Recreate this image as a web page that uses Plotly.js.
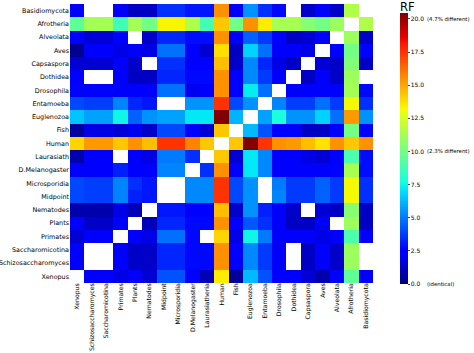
<!DOCTYPE html>
<html>
<head>
<meta charset="utf-8">
<script src="https://cdn.plot.ly/plotly-3.0.1.min.js"></script>
<style>html,body{margin:0;padding:0;background:#fff;}#chart{width:474px;height:353px;}</style>
</head>
<body>
<div id="chart"></div>
<script>
// Species order: index 0 at bottom (y) / left (x)
const xLabels = ["Xenopus","Schizosaccharomyces","Saccharomicotina","Primates","Plants","Nematodes","Midpoint","Microsporidia","D.Melanogaster","Laurasiatheria","Human","Fish","Euglenozoa","Entamoeba","Drosophila","Dothidea","Capsaspora","Aves","Alveolata","Afrotheria","Basidiomycota"];
const yLabels = ["Xenopus","Schizosaccharomyces","Saccharomicotina","Primates","Plants","Nematodes","Midpoint","Microsporidia","D.Melanogaster","Laurasiath","Human","Fish","Euglenozoa","Entamoeba","Drosophila","Dothidea","Capsaspora","Aves","Alveolata","Afrotheria","Basidiomycota"];

// RF values per row (row i = yLabels[i]), columns follow xLabels; null = identical (white)
const rowXenopus        = [null,2.4,2.4,1.8,2.2,1.5,4.2,4.2,2.6,1.0,13.5,0.5,6.3,4.2,2.5,2.5,1.5,0.8,2.2,9.5,2.5];
const rowSchizo         = [2.2,null,null,2.5,1.3,1.3,3.3,3.3,2.7,2.7,15.5,2.3,5.3,3.7,2.5,null,1.2,2.3,1.3,11.0,null];
const rowSaccharo       = [2.2,null,null,2.5,1.3,1.3,3.3,3.3,2.7,2.7,15.5,2.3,5.3,3.7,2.5,null,1.2,2.3,1.3,11.0,null];
const rowPrimates       = [1.5,2.4,2.4,null,2.3,1.8,4.8,4.8,2.7,null,14.0,1.8,7.5,5.0,2.3,2.3,2.2,1.8,2.3,9.0,2.5];
const rowPlants         = [2.2,1.3,1.3,2.3,null,1.0,3.3,3.3,2.7,2.7,15.5,2.2,4.3,3.5,2.4,1.2,1.2,2.5,null,11.0,1.2];
const rowNematodes      = [0.8,0.8,0.8,1.8,1.0,null,3.0,3.0,2.5,2.3,14.5,1.3,5.5,3.2,2.3,1.3,null,1.5,1.2,10.5,1.2];
const rowMidpoint       = [4.0,3.8,3.8,5.2,3.2,3.0,null,null,5.3,5.3,17.5,4.0,5.5,null,5.2,3.7,3.7,4.5,3.7,13.2,3.5];
const rowMicrosporidia  = [4.0,3.8,3.8,5.2,3.5,3.0,null,null,5.3,5.3,17.5,4.0,5.5,null,5.0,3.7,3.7,4.5,3.7,13.2,3.5];
const rowDMelanogaster  = [2.5,2.5,2.5,3.2,2.5,2.3,5.2,5.2,null,3.5,15.5,2.4,7.2,5.3,2.2,2.5,2.5,2.4,2.6,11.3,2.8];
const rowLaurasiatheria = [0.8,2.3,2.3,null,2.3,1.8,5.0,5.0,3.5,null,14.3,1.5,7.2,5.3,2.3,2.5,1.8,1.5,2.5,9.0,2.8];
const rowHuman          = [14.0,15.3,15.3,14.3,15.5,14.5,17.5,17.5,15.8,14.3,null,14.3,20.4,17.5,15.5,15.3,14.5,13.7,15.5,14.3,15.5];
const rowFish           = [0.5,1.8,1.8,1.5,2.0,1.3,4.0,4.0,2.4,1.5,14.3,null,6.3,4.2,2.3,2.3,1.2,1.2,2.2,10.0,2.5];
const rowEuglenozoa     = [6.5,5.8,5.8,7.5,4.5,5.5,5.8,5.8,7.2,7.2,20.4,6.2,null,5.8,7.8,5.5,5.5,6.8,4.8,15.3,5.5];
const rowEntamoeba      = [4.0,3.8,3.8,5.2,3.3,3.0,null,null,5.5,5.5,17.5,4.0,5.5,null,5.2,3.8,3.8,4.8,3.7,13.2,3.5];
const rowDrosophila     = [2.6,2.6,2.6,2.4,2.4,2.2,4.8,4.8,2.0,2.2,15.5,2.3,7.3,4.8,null,2.5,2.3,2.3,2.3,11.2,2.7];
const rowDothidea       = [2.5,null,null,2.5,1.2,1.2,3.3,3.3,2.7,2.7,15.5,2.3,5.3,3.7,2.5,null,1.2,2.3,1.3,11.0,null];
const rowCapsaspora     = [1.5,1.5,1.5,2.2,1.3,null,3.5,3.5,2.5,2.5,14.5,1.3,5.3,3.3,1.8,1.2,null,1.5,1.3,10.3,1.2];
const rowAves           = [0.3,2.5,2.5,1.8,2.5,1.8,4.8,4.8,2.5,1.5,13.8,1.2,6.8,4.8,2.5,2.5,1.8,null,2.2,10.0,2.5];
const rowAlveolata      = [2.5,1.5,1.5,2.5,null,1.3,3.3,3.3,2.8,2.8,15.5,2.5,4.5,3.7,2.6,1.2,1.5,2.3,null,11.0,1.3];
const rowAfrotheria     = [9.5,11.2,11.2,8.7,11.2,10.0,13.3,13.3,11.5,8.8,14.3,10.0,15.5,13.5,11.3,11.3,10.5,10.0,11.0,null,11.5];
const rowBasidiomycota  = [2.5,null,null,2.5,1.2,1.2,3.5,3.5,3.0,3.0,15.5,2.5,5.5,3.5,2.7,null,1.3,2.5,1.3,11.5,null];

const zValues = [rowXenopus,rowSchizo,rowSaccharo,rowPrimates,rowPlants,rowNematodes,rowMidpoint,rowMicrosporidia,rowDMelanogaster,rowLaurasiatheria,rowHuman,rowFish,rowEuglenozoa,rowEntamoeba,rowDrosophila,rowDothidea,rowCapsaspora,rowAves,rowAlveolata,rowAfrotheria,rowBasidiomycota];

const cbTickVals = [0,2.5,5,7.5,10,12.5,15,17.5,20];
const cbTickText = ["0.0","2.5","5.0","7.5","10.0","12.5","15.0","17.5","20.0"];
const cbNoteVals = [0,10,20];
const cbNoteText = ["(identical)","(2.3% different)","(4.7% different)"];

const ZMIN = 0, ZMAX = 20.45;
// matplotlib "jet"
const jet = [
  [0,'rgb(0,0,128)'],[0.11,'rgb(0,0,255)'],[0.125,'rgb(0,0,255)'],
  [0.34,'rgb(0,219,255)'],[0.35,'rgb(0,230,247)'],[0.375,'rgb(21,255,226)'],
  [0.64,'rgb(239,255,8)'],[0.65,'rgb(247,246,0)'],[0.66,'rgb(255,236,0)'],
  [0.89,'rgb(255,19,0)'],[0.91,'rgb(232,0,0)'],[1,'rgb(128,0,0)']
];

// colorbar geometry (plot area: 303 x 279 px, top at 4px)
const PLOT_H = 279, CB_TOP = 9, CB_LEN = 271;
const cbY = v => 1 - (CB_TOP + (1 - (v - ZMIN) / (ZMAX - ZMIN)) * CB_LEN) / PLOT_H;

const trace = {
  type:'heatmap', x:xLabels, y:yLabels, z:zValues,
  colorscale:jet, zmin:ZMIN, zmax:ZMAX, hoverongaps:false,
  colorbar:{
    thickness:8, thicknessmode:'pixels', len:CB_LEN, lenmode:'pixels',
    x:1.089, xanchor:'left', xpad:0, ypad:0, y:1-CB_TOP/PLOT_H, yanchor:'top',
    outlinewidth:0, ticks:'outside', ticklen:2,
    tickvals:cbTickVals, ticktext:cbTickText,
    tickfont:{family:'DejaVu Sans', size:6, color:'#000'}
  }
};

const notes = cbNoteVals.map((v,i) => ({
  text:cbNoteText[i], xref:'paper', yref:'paper', x:1.172, y:cbY(v),
  xanchor:'left', yanchor:'middle', showarrow:false,
  font:{family:'DejaVu Sans', size:5.4, color:'#000'}
}));

const layout = {
  width:474, height:353,
  margin:{l:70, r:101, t:4, b:70},
  paper_bgcolor:'#fff', plot_bgcolor:'#fff',
  xaxis:{type:'category', tickangle:-90, ticklabelstandoff:-2, tickfont:{family:'DejaVu Sans', size:6.2, color:'#000'}, showgrid:false, zeroline:false, ticks:'', automargin:false},
  yaxis:{type:'category', tickfont:{family:'DejaVu Sans', size:6.4, color:'#000'}, showgrid:false, zeroline:false, ticks:'', automargin:false},
  annotations:[{text:'RF', xref:'paper', yref:'paper', x:1.0825, y:(283-6.5)/279, xanchor:'left', yanchor:'middle', showarrow:false, font:{family:'DejaVu Sans', size:11.5, color:'#000'}}].concat(notes),
  showlegend:false
};

Plotly.newPlot('chart',[trace],layout,{displayModeBar:false,staticPlot:true});
</script>
</body>
</html>
